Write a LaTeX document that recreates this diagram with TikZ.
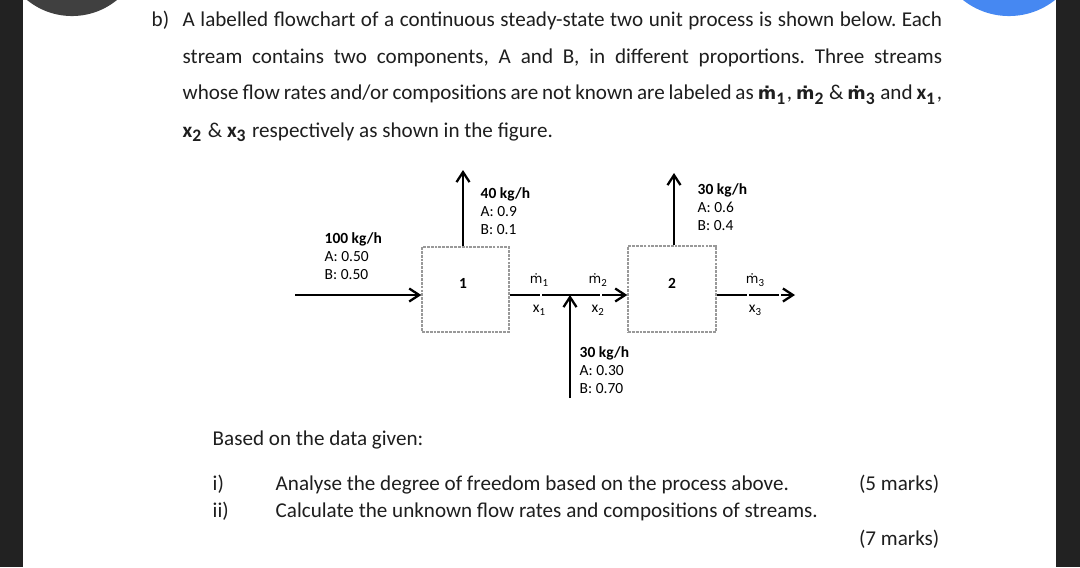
\documentclass[tikz,border=0pt]{standalone}
\usepackage{fontspec}
\setmainfont{Carlito}
\newfontfamily\accfont[Scale=0.84]{DejaVu Sans}
\usetikzlibrary{arrows.meta}
\definecolor{edgedark}{RGB}{34,34,34}
\definecolor{circgray}{RGB}{64,64,64}
\definecolor{circblue}{RGB}{70,136,242}
\definecolor{inkdark}{RGB}{30,30,30}
\newcommand{\mflow}{{\accfont ṁ}}
\tikzstyle{bodytext}=[inner sep=0pt, anchor=base west, text=inkdark, font=\fontsize{6}{7}\selectfont\frenchspacing]
\tikzstyle{streamtext}=[inner sep=0pt, anchor=north west, align=left, font=\fontsize{4.4}{5.1}\selectfont]
\tikzstyle{vartext}=[inner sep=1pt, font=\fontsize{4.4}{5.1}\selectfont]
\tikzstyle{numtext}=[inner sep=0pt, font=\fontsize{4.4}{5.1}\selectfont\bfseries]
\tikzstyle{unitbox}=[draw=gray!80, line width=0.4pt, dash pattern=on 0.8pt off 0.3pt, minimum width=0.87cm, minimum height=0.85cm, inner sep=0pt]
\tikzstyle{flowline}=[line width=0.65pt]
\tikzstyle{dashline}=[line width=0.65pt, dash pattern=on 0.3cm off 0.02cm]
\tikzset{>={Straight Barb[length=0.1cm, width=0.13cm]}}

\begin{document}
\begin{tikzpicture}[x=0.01cm, y=-0.01cm]
\useasboundingbox (0,0) rectangle (1080,567);
% the page
\fill[white] (0,0) rectangle (1080,567);
\fill[circgray] (72,-55) circle (0.71cm);
\fill[circblue] (1009,-58) circle (0.74cm);
\fill[edgedark] (0,0) rectangle (23,567);
\fill[edgedark] (1056,0) rectangle (1080,567);
% the question
\node[bodytext] (part) at (151,27) {b)};
\node[bodytext] (q1) at (182,27) {\hbox to 7.59cm{A labelled flowchart of a continuous steady-state two unit process is shown below. Each}};
\node[bodytext] (q2) at (182,63.5) {\hbox to 7.59cm{stream contains two components, A and B, in different proportions. Three streams}};
\node[bodytext] (q3) at (182,100) {\hbox to 7.59cm{whose flow rates and/or compositions are not known are labeled as \textbf{\mflow\textsubscript{1}}, \textbf{\mflow\textsubscript{2}} \& \textbf{\mflow\textsubscript{3}} and \textbf{x\textsubscript{1}},}};
\node[bodytext] (q4) at (182,137) {\textbf{x\textsubscript{2}} \& \textbf{x\textsubscript{3}} respectively as shown in the figure.};
% the units
\node[unitbox] (U1) at (465.5,289.5) {};
\node[unitbox, minimum width=0.88cm, minimum height=0.86cm] (U2) at (672,289) {};
\node[numtext] (N1) at (463,283) {1};
\node[numtext] (N2) at (672,283) {2};
% the stream ends
\coordinate (feed) at (295,295);
\coordinate (top1) at (463,170);
\coordinate (mix) at (570,295);
\coordinate (fresh) at (570,398);
\coordinate (top2) at (674,173);
\coordinate (prod) at (795,295);
% the streams
\draw[flowline, ->] (feed) -- (U1.west |- feed);
\draw[flowline, ->] (U1.north -| top1) -- (top1);
\draw[dashline] (U1.east |- mix) -- node[vartext, above=1pt] (M1) {\mflow\textsubscript{1}} node[vartext, below=1.5pt] (X1) {x\textsubscript{1}} (mix);
\draw[flowline, ->] (fresh) -- (mix);
\draw[dashline, ->] (mix) -- node[vartext, above=1pt] (M2) {\mflow\textsubscript{2}} node[vartext, below=1.5pt] (X2) {x\textsubscript{2}} (U2.west |- mix);
\draw[flowline, ->] (U2.north -| top2) -- (top2);
\draw[dashline, ->] (U2.east |- prod) -- node[vartext, above=1pt] (M3) {\mflow\textsubscript{3}} node[vartext, below=1.5pt] (X3) {x\textsubscript{3}} (prod);
% the stream data
\node[streamtext] (S0) at (324,232) {\textbf{100 kg/h}\\A: 0.50\\B: 0.50};
\node[streamtext] (S1) at (480,187) {\textbf{40 kg/h}\\A: 0.9\\B: 0.1};
\node[streamtext] (S2) at (697,183) {\textbf{30 kg/h}\\A: 0.6\\B: 0.4};
\node[streamtext] (S3) at (579,346) {\textbf{30 kg/h}\\A: 0.30\\B: 0.70};
% the tasks
\node[bodytext] (given) at (212,445) {Based on the data given:};
\node[bodytext] (it1) at (212,490) {i)};
\node[bodytext] (task1) at (275,490) {Analyse the degree of freedom based on the process above.};
\node[bodytext, anchor=base east] (mark1) at (940,490) {(5 marks)};
\node[bodytext] (it2) at (212,517) {ii)};
\node[bodytext] (task2) at (275,517) {Calculate the unknown flow rates and compositions of streams.};
\node[bodytext, anchor=base east] (mark2) at (940,545) {(7 marks)};
\end{tikzpicture}
\end{document}
